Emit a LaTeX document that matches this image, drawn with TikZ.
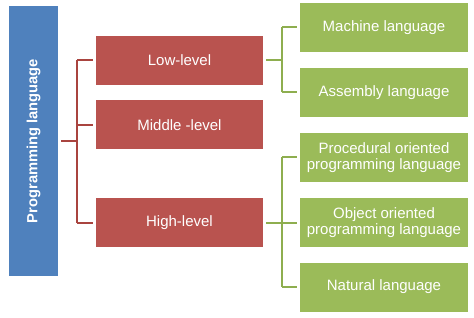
\documentclass[tikz,border=0pt]{standalone}
\usepackage{fontspec}
\setmainfont{Liberation Sans}
\definecolor{boxblue}{HTML}{4F81BD}
\definecolor{boxred}{HTML}{B9534F}
\definecolor{boxgreen}{HTML}{9BBB59}
\definecolor{linered}{HTML}{A9443F}
\definecolor{linegreen}{HTML}{8EAE4F}
\tikzset{
  box/.style={fill=#1,text=white,align=center,inner sep=0pt,outer sep=3pt,
    font=\fontsize{15}{16}\selectfont},
  levelbox/.style={box=boxred,minimum width=167pt,minimum height=49pt},
  langbox/.style={box=boxgreen,minimum width=168pt,minimum height=49pt},
  redline/.style={draw=linered,line width=2pt},
  greenline/.style={draw=linegreen,line width=2pt}
}
\begin{document}
\begin{tikzpicture}[x=1pt,y=-1pt]
    \useasboundingbox (0,0) rectangle (474,318);

    \node[box=boxblue,minimum width=270pt,minimum height=49pt,rotate=90,
      font=\fontsize{14.7}{16}\selectfont\bfseries]
      (prog) at (33.5,141) {Programming language};

    \node[levelbox] (low)  at (179.5,60.5)  {Low-level};
    \node[levelbox] (mid)  at (179.5,125)   {Middle -level};
    \node[levelbox] (high) at (179.5,222.5) {High-level};

    \node[langbox] (machine)  at (384,27.5)  {Machine language};
    \node[langbox] (assembly) at (384,92.5)  {Assembly language};
    \node[langbox] (proc)     at (384,157.5) {Procedural oriented\\programming language};
    \node[langbox] (object)   at (384,222.5) {Object oriented\\programming language};
    \node[langbox] (natural)  at (384,287)   {Natural language};

    % levels
    \coordinate (rbus) at (77,0);
    \draw[redline] (prog.south) -- (prog.south -| rbus);
    \draw[redline] (rbus |- low.west) -- (rbus |- high.west);
    \foreach \n in {low,mid,high}
      \draw[redline] (rbus |- \n.west) -- (\n.west);

    % low-level languages
    \coordinate (gbus) at (282,0);
    \draw[greenline] (low.east) -- (low.east -| gbus);
    \draw[greenline] (gbus |- machine.west) -- (gbus |- assembly.west);
    \foreach \n in {machine,assembly}
      \draw[greenline] (gbus |- \n.west) -- (\n.west);

    % high-level languages
    \draw[greenline] (high.east) -- (high.east -| gbus);
    \draw[greenline] (gbus |- proc.west) -- (gbus |- natural.west);
    \foreach \n in {proc,object,natural}
      \draw[greenline] (gbus |- \n.west) -- (\n.west);

  \end{tikzpicture}
\end{document}
